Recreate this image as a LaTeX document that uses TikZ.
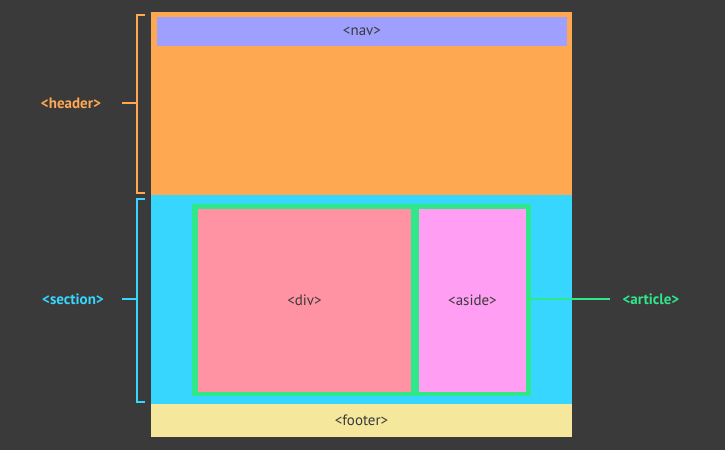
\documentclass[tikz,border=0pt]{standalone}
\usepackage{fontspec}
\setmainfont{PT Sans}
\begin{document}
\begin{tikzpicture}[x=1pt,y=-1pt,
  box/.style={inner sep=0pt,outer sep=0pt},
  lbl/.style={font=\fontsize{15}{15}\selectfont\bfseries},
  br/.style={line width=2pt}]
\definecolor{bg}{HTML}{3A3A3A}
\definecolor{org}{HTML}{FFA852}
\definecolor{navc}{HTML}{9F9FFF}
\definecolor{cy}{HTML}{36D6FF}
\definecolor{gr}{HTML}{2EE88A}
\definecolor{pk}{HTML}{FF93A4}
\definecolor{mg}{HTML}{FF9EF2}
\definecolor{yl}{HTML}{F5E89C}
\definecolor{tx}{HTML}{3A3A3A}
\fill[bg] (0,0) rectangle (725,450);
\useasboundingbox (0,0) rectangle (725,450);
\fill[org] (151,12) coordinate (hdA) rectangle (572,195) coordinate (hdB);
\node[box,fill=navc,minimum width=410pt,minimum height=29pt,text=tx,font=\fontsize{15}{15}\selectfont] (nav) at (362,31.5) {<nav>};
\fill[cy] (151,195) rectangle (572,404);
\fill[gr] (192,204) rectangle (531,396);
\node[box,fill=pk,minimum width=213pt,minimum height=183pt,text=tx,font=\fontsize{15}{15}\selectfont] (div) at (304.5,300.5) {<div>};
\node[box,fill=mg,minimum width=107pt,minimum height=183pt,text=tx,font=\fontsize{15}{15}\selectfont] (aside) at (472.5,300.5) {<aside>};
\node[box,fill=yl,minimum width=421pt,minimum height=33pt,text=tx,font=\fontsize{15}{15}\selectfont] (footer) at (361.5,420.5) {<footer>};
\coordinate (artR) at (531,299);
% header bracket
\draw[br,org] (145,15) -- (137,15) -- (137,193) -- (145,193);
\draw[br,org] (137,103) -- (122,103);
\node[lbl,text=org] (header) at (71,103) {<header>};
% section bracket
\draw[br,cy] (145,199) -- (137,199) -- (137,402) -- (145,402);
\draw[br,cy] (137,299) -- (122,299);
\node[lbl,text=cy] (section) at (73,299) {<section>};
\node[lbl,text=gr,anchor=west] (article) at (619,299) {<article>};
\draw[br,gr] (artR) -- (610,299);
\end{tikzpicture}
\end{document}
